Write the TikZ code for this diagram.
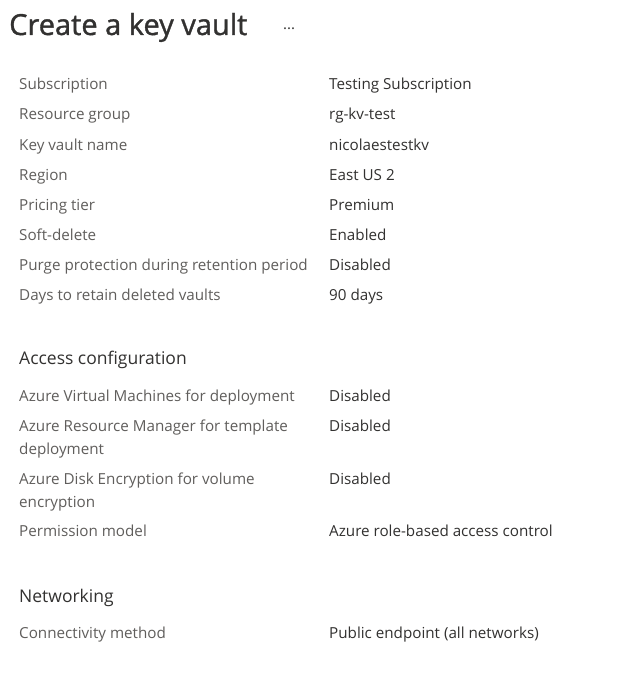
\documentclass[tikz,border=0pt]{standalone}
\usepackage{fontspec}
\setmainfont{Open Sans}
\newfontfamily\titlefont[FakeBold=1.2]{Open Sans}
\definecolor{lbl}{HTML}{605E5C}
\definecolor{val}{HTML}{323130}
\begin{document}
\begin{tikzpicture}[x=1pt,y=-1pt,
  lab/.style={anchor=base west,inner sep=0,text=lbl,font=\fontsize{15.2}{18}\selectfont},
  value/.style={anchor=base west,inner sep=0,text=val,font=\fontsize{15.2}{18}\selectfont},
  head/.style={anchor=base west,inner sep=0,text=val,font=\fontsize{17.5}{21}\selectfont}]
\useasboundingbox[fill=white] (0,0) rectangle (619,679);
\node[anchor=base west,inner sep=0,text=val,font=\titlefont\fontsize{29}{34}\selectfont] (title) at (9,35) {Create a key vault};
\node[anchor=base west,inner sep=0,text=val,font=\fontsize{15}{18}\selectfont] (dots) at (283,30) {...};
\foreach \i/\l/\v in {0/Subscription/Testing Subscription,1/Resource group/rg-kv-test,2/Key vault name/nicolaestestkv,3/Region/East US 2,4/Pricing tier/Premium,5/Soft-delete/Enabled,6/Purge protection during retention period/Disabled,7/Days to retain deleted vaults/90 days}{
  \node[lab] (l\i) at (19,90+30*\i) {\l};
  \node[value] (v\i) at (329,90+30*\i) {\v};
}
\node[head] (h1) at (19,364) {Access configuration};
\node[lab] (a1) at (19,401) {Azure Virtual Machines for deployment};
\node[value] (b1) at (329,401) {Disabled};
\node[lab] (a2) at (19,431) {Azure Resource Manager for template};
\node[lab] (a2b) at (19,454) {deployment};
\node[value] (b2) at (329,431) {Disabled};
\node[lab] (a3) at (19,484) {Azure Disk Encryption for volume};
\node[lab] (a3b) at (19,507) {encryption};
\node[value] (b3) at (329,484) {Disabled};
\node[lab] (a4) at (19,536) {Permission model};
\node[value] (b4) at (329,536) {Azure role-based access control};
\node[head] (h2) at (19,602) {Networking};
\node[lab] (c1) at (19,638) {Connectivity method};
\node[value] (d1) at (329,638) {Public endpoint (all networks)};
\end{tikzpicture}
\end{document}
